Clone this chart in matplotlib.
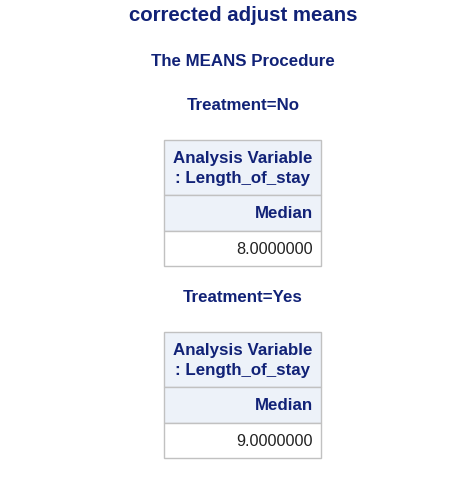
import matplotlib
matplotlib.use("Agg")
import matplotlib.pyplot as plt
from matplotlib.patches import Rectangle

title = "corrected adjust means"
proc = "The MEANS Procedure"
groups = ["Treatment=No", "Treatment=Yes"]
var_label = ["Analysis Variable", ": Length_of_stay"]
stat = "Median"
medians = [8.0, 9.0]

NAVY = "#112277"
HDR = "#EDF2F9"
BORDER = "#C1C1C1"
FONT = "Liberation Sans"
FS = 12.2

fig = plt.figure(figsize=(4.74, 4.78), dpi=100)
fig.patch.set_facecolor("white")
ax = fig.add_axes([0, 0, 1, 1])
ax.set_xlim(0, 474); ax.set_ylim(478, 0); ax.axis("off")

ax.text(243, 15, title, ha="center", va="center", fontsize=14.7, fontweight="bold", color=NAVY, family=FONT)
ax.text(243, 61, proc, ha="center", va="center", fontsize=FS, fontweight="bold", color=NAVY, family=FONT)

x0, x1 = 164, 321
tops = [140, 332]
labely = [105, 297]
for g, top, ly, m in zip(groups, tops, labely, medians):
    ax.text(243, ly, g, ha="center", va="center", fontsize=FS, fontweight="bold", color=NAVY, family=FONT)
    rows = [(top, top + 55, HDR), (top + 55, top + 91, HDR), (top + 91, top + 126, "white")]
    for (a, b, c) in rows:
        ax.add_patch(Rectangle((x0, a), x1 - x0, b - a, facecolor=c, edgecolor=BORDER, lw=1))
    ax.text((x0 + x1) / 2, top + 18, var_label[0], ha="center", va="center", fontsize=FS, fontweight="bold", color=NAVY, family=FONT)
    ax.text((x0 + x1) / 2, top + 38, var_label[1], ha="center", va="center", fontsize=FS, fontweight="bold", color=NAVY, family=FONT)
    ax.text(x1 - 8, top + 73, stat, ha="right", va="center", fontsize=FS, fontweight="bold", color=NAVY, family=FONT)
    ax.text(x1 - 8, top + 109, f"{m:.7f}", ha="right", va="center", fontsize=11.7, color="#222222", family=FONT)

fig.savefig("out.png", dpi=100, facecolor="white")
